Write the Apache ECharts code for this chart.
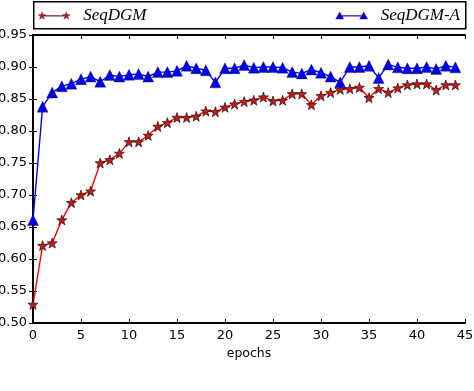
<!DOCTYPE html>
<html>
<head>
<meta charset="utf-8">
<script src="https://cdn.jsdelivr.net/npm/echarts@6/dist/echarts.min.js"></script>
<style>html,body{margin:0;padding:0;background:#fff;}#c{width:474px;height:391px;}</style>
</head>
<body>
<div id="c"></div>
<script>
const epochs = [0,1,2,3,4,5,6,7,8,9,10,11,12,13,14,15,16,17,18,19,20,21,22,23,24,25,26,27,28,29,30,31,32,33,34,35,36,37,38,39,40,41,42,43,44];
const seqDGM = [0.529,0.621,0.625,0.661,0.688,0.700,0.706,0.750,0.755,0.765,0.783,0.783,0.793,0.807,0.813,0.821,0.821,0.823,0.831,0.830,0.837,0.842,0.846,0.848,0.853,0.847,0.848,0.858,0.858,0.841,0.855,0.860,0.865,0.866,0.868,0.852,0.866,0.860,0.867,0.872,0.8735,0.8735,0.864,0.872,0.872];
const seqDGMA = [0.661,0.838,0.860,0.870,0.874,0.881,0.885,0.877,0.8875,0.885,0.888,0.889,0.885,0.892,0.892,0.894,0.902,0.898,0.895,0.876,0.898,0.898,0.903,0.899,0.900,0.900,0.899,0.892,0.890,0.896,0.891,0.885,0.876,0.900,0.900,0.902,0.883,0.904,0.8995,0.898,0.898,0.900,0.897,0.902,0.8995];
const seriesNames = ['SeqDGM','SeqDGM-A'];
const yTicks = {min:0.50,max:0.95,step:0.05};
const xTicks = {min:0,max:45,step:5};

const star = 'path://M0,-10L2.35,-3.24L9.51,-3.09L3.8,1.24L5.88,8.09L0,4L-5.88,8.09L-3.8,1.24L-9.51,-3.09L-2.35,-3.24Z';
const starLegend = 'path://M5,0L6.2,3.4L9.8,3.5L6.9,5.6L8,9L5,7L2,9L3.1,5.6L0.2,3.5L3.8,3.4Z M8,4.6L32,4.6L32,5.4L8,5.4Z M35,0L36.2,3.4L39.8,3.5L36.9,5.6L38,9L35,7L32,9L33.1,5.6L30.2,3.5L33.8,3.4Z';
const triLegend = 'path://M0,9L5,0L10,9Z M8,4.6L32,4.6L32,5.4L8,5.4Z M30,9L35,0L40,9Z';

const pairs = (xs, ys) => xs.map((x, i) => [x, ys[i]]);
const chart = echarts.init(document.getElementById('c'));
const axisFont = {fontFamily:'DejaVu Sans', fontSize:13, color:'#000'};
chart.setOption({
  animation:false,
  backgroundColor:'#fff',
  grid:{left:33, right:9, top:35, bottom:68, outerBoundsMode:'none', containLabel:false},
  graphic:[{type:'rect', left:33, top:1, shape:{width:432, height:27}, style:{fill:'#fff', stroke:'#000', lineWidth:1.5}, z:0}],
  legend:[
    {data:[seriesNames[0]], left:38, top:3, icon:starLegend, itemWidth:32, itemHeight:9, itemStyle:{color:'#d01010', borderColor:'#000', borderWidth:0.3},
     textStyle:{fontFamily:'Liberation Serif', fontStyle:'italic', fontSize:17, color:'#000', padding:[0,0,0,8]}, padding:[4,0]},
    {data:[seriesNames[1]], right:14, top:3, icon:triLegend, itemWidth:32, itemHeight:9, itemStyle:{color:'#0000ee', borderColor:'#000', borderWidth:0.3},
     textStyle:{fontFamily:'Liberation Serif', fontStyle:'italic', fontSize:17, color:'#000', padding:[0,0,0,8]}, padding:[4,0]}
  ],
  xAxis:[
    {type:'value', min:xTicks.min, max:xTicks.max, interval:xTicks.step, name:'epochs', nameLocation:'middle', nameGap:22,
     nameTextStyle:{fontFamily:'DejaVu Sans', fontSize:12.5, color:'#000'},
     axisLine:{lineStyle:{color:'#000', width:2}}, axisTick:{inside:true, length:4, lineStyle:{color:'#000'}},
     axisLabel:Object.assign({margin:6}, axisFont), splitLine:{show:false}},
    {type:'value', position:'top', min:xTicks.min, max:xTicks.max, interval:xTicks.step,
     axisLine:{lineStyle:{color:'#000', width:2}}, axisTick:{inside:true, length:4, lineStyle:{color:'#000'}},
     axisLabel:{show:false}, splitLine:{show:false}}
  ],
  yAxis:[
    {type:'value', min:yTicks.min, max:yTicks.max, interval:yTicks.step,
     axisLine:{show:true, lineStyle:{color:'#000', width:2}}, axisTick:{show:true, inside:true, length:4, lineStyle:{color:'#000'}},
     axisLabel:Object.assign({margin:6, formatter:v=>v.toFixed(2)}, axisFont), splitLine:{show:false}},
    {type:'value', position:'right', min:yTicks.min, max:yTicks.max, interval:yTicks.step,
     axisLine:{show:true, lineStyle:{color:'#000', width:2}}, axisTick:{show:true, inside:true, length:4, lineStyle:{color:'#000'}},
     axisLabel:{show:false}, splitLine:{show:false}}
  ],
  series:[
    {name:seriesNames[0], type:'line', data:pairs(epochs, seqDGM), symbol:star, symbolSize:10,
     lineStyle:{color:'#ff0000', width:1.4}, itemStyle:{color:'#c81818', borderColor:'#000', borderWidth:0.6}, z:3},
    {name:seriesNames[1], type:'line', data:pairs(epochs, seqDGMA), symbol:'triangle', symbolSize:11,
     lineStyle:{color:'#0000ff', width:1.4}, itemStyle:{color:'#0000ee', borderColor:'#000', borderWidth:0.3}, z:4}
  ]
});
</script>
</body>
</html>
